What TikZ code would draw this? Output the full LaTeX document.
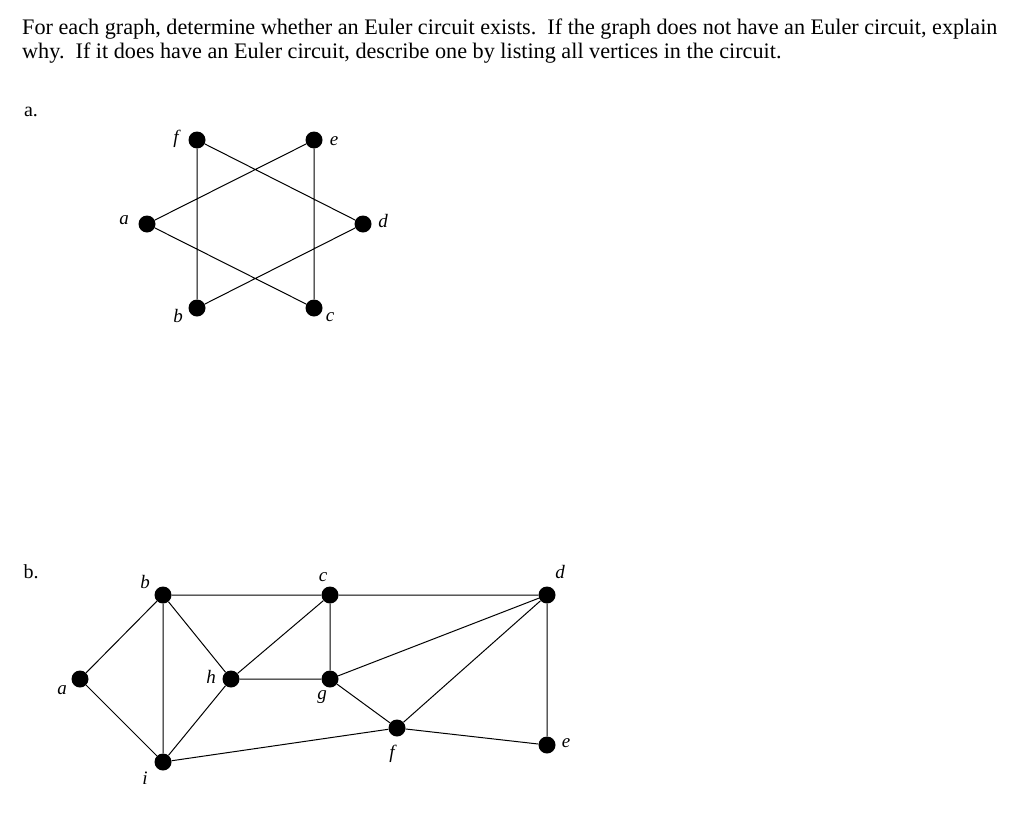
\documentclass[tikz,border=0pt]{standalone}
\usepackage{fontspec}
\setmainfont{Liberation Serif}
\begin{document}
\begin{tikzpicture}[x=1pt,y=-1pt,
  vtx/.style={circle,fill=black,inner sep=0pt,minimum size=17pt},
  lbl/.style={font=\fontsize{19}{20}\selectfont\itshape},
  edge/.style={line width=1pt}]
\useasboundingbox (0,0) rectangle (1024,819);
\node[anchor=north west,align=left,font=\fontsize{22.2}{24}\selectfont,inner sep=0pt] (t) at (22,19)
 {For each graph, determine whether an Euler circuit exists.\ \ If the graph does not have an Euler circuit, explain\\
 why.\ \ If it does have an Euler circuit, describe one by listing all vertices in the circuit.};
\node[font=\fontsize{20}{20}\selectfont] (la) at (31,112) {a.};
\node[font=\fontsize{20}{20}\selectfont] (lb) at (31,572) {b.};
% graph a
\node[vtx] (af) at (197,140) {}; \node[vtx] (ae) at (314,140) {};
\node[vtx] (aa) at (147,224) {}; \node[vtx] (ad) at (363,224) {};
\node[vtx] (ab) at (197,308) {}; \node[vtx] (ac) at (314,308) {};
\draw[edge] (af)--(ab) (ae)--(ac) (af)--(ad) (aa)--(ae) (aa)--(ac) (ab)--(ad);
\node[lbl] (tf) at (176,139) {f}; \node[lbl] (te) at (334,141) {e};
\node[lbl] (ta) at (124,220) {a}; \node[lbl] (td) at (383,221) {d};
\node[lbl] (tb) at (178,316) {b}; \node[lbl] (tc) at (330,317) {c};
% graph b
\node[vtx] (a) at (80,679) {}; \node[vtx] (b) at (163,595) {};
\node[vtx] (c) at (330,595) {}; \node[vtx] (d) at (547,595) {};
\node[vtx] (h) at (231,679) {}; \node[vtx] (g) at (330,679) {};
\node[vtx] (f) at (397,728) {}; \node[vtx] (i) at (163,762) {};
\node[vtx] (e) at (547,745) {};
\draw[edge] (a)--(b) (a)--(i) (b)--(i) (b)--(h) (b)--(c) (c)--(d) (c)--(h) (c)--(g)
 (h)--(g) (g)--(d) (g)--(f) (d)--(f) (d)--(e) (f)--(e) (i)--(h) (i)--(f);
\node[lbl] (lbb) at (145,582) {b}; \node[lbl] (lbc) at (323,577) {c};
\node[lbl] (lbd) at (560,572) {d}; \node[lbl] (lba) at (62,690) {a};
\node[lbl] (lbh) at (211,677) {h}; \node[lbl] (lbg) at (322,697) {g};
\node[lbl] (lbf) at (392,754) {f}; \node[lbl] (lbi) at (145,778) {i};
\node[lbl] (lbe) at (566,743) {e};
\end{tikzpicture}
\end{document}
